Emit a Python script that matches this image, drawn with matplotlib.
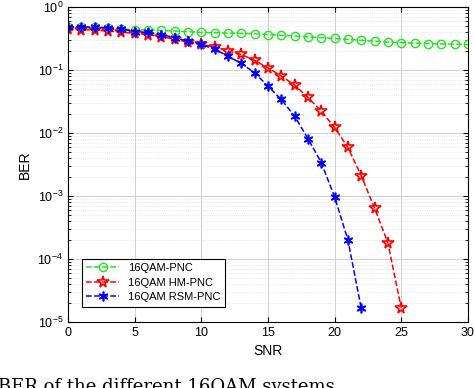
import numpy as np
import matplotlib.pyplot as plt

snr = np.arange(0, 31)

ber_pnc = [0.49, 0.485, 0.48, 0.47, 0.455, 0.44, 0.435, 0.43, 0.42, 0.41,
           0.40, 0.395, 0.39, 0.385, 0.38, 0.37, 0.36, 0.35, 0.34, 0.33,
           0.32, 0.31, 0.30, 0.29, 0.28, 0.275, 0.27, 0.265, 0.262, 0.26, 0.257]

snr_hm = np.arange(0, 26)
ber_hm = [0.445, 0.44, 0.435, 0.42, 0.405, 0.385, 0.37, 0.34, 0.312, 0.283,
          0.257, 0.235, 0.203, 0.178, 0.143, 0.109, 0.081, 0.058, 0.037, 0.0224,
          0.0123, 0.0059, 0.0021, 6.4e-4, 1.8e-4, 1.66e-5]

snr_rsm = np.arange(0, 23)
ber_rsm = [0.49, 0.49, 0.485, 0.475, 0.46, 0.41, 0.40, 0.37, 0.33, 0.29,
           0.257, 0.216, 0.168, 0.128, 0.091, 0.056, 0.0343, 0.0186, 0.0082, 0.0034,
           9.7e-4, 2.0e-4, 1.63e-5]

plt.rcParams['font.family'] = ['Liberation Sans', 'DejaVu Sans']

fig = plt.figure(figsize=(4.74, 3.88), dpi=100)
ax = fig.add_axes([0.1435, 0.171, 0.8435, 0.81])

ax.semilogy(snr, ber_pnc, '--', color='#22e622', marker='o', mfc='none',
            ms=6, lw=1.1, label='16QAM-PNC')
ax.semilogy(snr_hm, ber_hm, '--', color='red', marker='*', mfc='none',
            ms=8.5, mew=1.2, lw=1.1, label='16QAM HM-PNC')
ax.semilogy(snr_rsm, ber_rsm, '--', color='blue', marker=(6, 2, 0), mew=1.2,
            ms=7, lw=1.1, label='16QAM RSM-PNC')

ax.set_xlim(0, 30)
ax.set_ylim(1e-5, 1)
ax.set_xticks(np.arange(0, 31, 5))
ax.grid(True, which='major', color='#d0d0d0', lw=0.7)
ax.grid(True, which='minor', color='#d8d8d8', lw=0.5, ls=':')
ax.tick_params(which='both', direction='in', top=True, right=True, labelsize=9)
for s in ax.spines.values():
    s.set_linewidth(0.8)

ax.set_xlabel('SNR', fontsize=10)
ax.set_ylabel('BER', fontsize=10)

leg = ax.legend(loc='lower left', bbox_to_anchor=(0.02, 0.03), fontsize=8,
                fancybox=False, edgecolor='black', framealpha=1,
                handlelength=3, borderpad=0.4, labelspacing=0.4)
leg.get_frame().set_linewidth(0.8)

fig.text(-0.005, 0.026, 'BER of the different 16QAM systems', fontsize=13,
         family='DejaVu Serif', va='top', ha='left')

fig.savefig('out.png', dpi=100)
